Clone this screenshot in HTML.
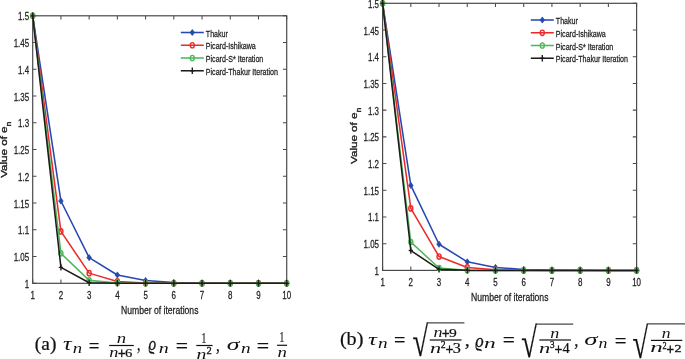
<!DOCTYPE html><html><head><meta charset="utf-8"><style>html,body{margin:0;padding:0;background:#fff;overflow:hidden}svg{display:block}.s{font-family:"Liberation Sans",Arial,sans-serif;fill:#222;stroke:#222;stroke-width:0.25px}.yl{stroke-width:0.45px}.cap{position:absolute;font-family:"Liberation Serif","Times New Roman",serif;color:#111;white-space:nowrap}</style></head><body>
<svg width="685" height="359" viewBox="0 0 685 359">
<rect width="685" height="359" fill="#fff"/>
<g stroke="#4a4a4a" stroke-width="1.2" fill="none">
<rect x="32.7" y="15.8" width="254" height="267.5"/>
<path d="M32.7 283.3v-3.8M32.7 15.8v3.8M60.92 283.3v-3.8M60.92 15.8v3.8M89.14 283.3v-3.8M89.14 15.8v3.8M117.37 283.3v-3.8M117.37 15.8v3.8M145.59 283.3v-3.8M145.59 15.8v3.8M173.81 283.3v-3.8M173.81 15.8v3.8M202.03 283.3v-3.8M202.03 15.8v3.8M230.26 283.3v-3.8M230.26 15.8v3.8M258.48 283.3v-3.8M258.48 15.8v3.8M286.7 283.3v-3.8M286.7 15.8v3.8M32.7 15.8h3.8M286.7 15.8h-3.8M32.7 42.55h3.8M286.7 42.55h-3.8M32.7 69.3h3.8M286.7 69.3h-3.8M32.7 96.05h3.8M286.7 96.05h-3.8M32.7 122.8h3.8M286.7 122.8h-3.8M32.7 149.55h3.8M286.7 149.55h-3.8M32.7 176.3h3.8M286.7 176.3h-3.8M32.7 203.05h3.8M286.7 203.05h-3.8M32.7 229.8h3.8M286.7 229.8h-3.8M32.7 256.55h3.8M286.7 256.55h-3.8M32.7 283.3h3.8M286.7 283.3h-3.8" stroke-width="1.05"/>
</g>
<polyline points="32.7,15.8 60.92,201.02 89.14,257.62 117.37,275.01 145.59,280.52 173.81,282.5 202.03,283.09 230.26,283.25 258.48,283.3 286.7,283.3" fill="none" stroke="#2549b0" stroke-width="1.55" stroke-linejoin="round"/>
<path d="M32.7 12.7L35 15.8L32.7 18.9L30.4 15.8z" fill="#2549b0" stroke="#2549b0" stroke-width="0.7" stroke-linejoin="round"/>
<path d="M60.92 197.92L63.22 201.02L60.92 204.12L58.62 201.02z" fill="#2549b0" stroke="#2549b0" stroke-width="0.7" stroke-linejoin="round"/>
<path d="M89.14 254.52L91.44 257.62L89.14 260.72L86.84 257.62z" fill="#2549b0" stroke="#2549b0" stroke-width="0.7" stroke-linejoin="round"/>
<path d="M117.37 271.91L119.67 275.01L117.37 278.11L115.07 275.01z" fill="#2549b0" stroke="#2549b0" stroke-width="0.7" stroke-linejoin="round"/>
<path d="M145.59 277.42L147.89 280.52L145.59 283.62L143.29 280.52z" fill="#2549b0" stroke="#2549b0" stroke-width="0.7" stroke-linejoin="round"/>
<path d="M173.81 279.4L176.11 282.5L173.81 285.6L171.51 282.5z" fill="#2549b0" stroke="#2549b0" stroke-width="0.7" stroke-linejoin="round"/>
<path d="M202.03 279.99L204.33 283.09L202.03 286.19L199.73 283.09z" fill="#2549b0" stroke="#2549b0" stroke-width="0.7" stroke-linejoin="round"/>
<path d="M230.26 280.15L232.56 283.25L230.26 286.35L227.96 283.25z" fill="#2549b0" stroke="#2549b0" stroke-width="0.7" stroke-linejoin="round"/>
<path d="M258.48 280.2L260.78 283.3L258.48 286.4L256.18 283.3z" fill="#2549b0" stroke="#2549b0" stroke-width="0.7" stroke-linejoin="round"/>
<path d="M286.7 280.2L289 283.3L286.7 286.4L284.4 283.3z" fill="#2549b0" stroke="#2549b0" stroke-width="0.7" stroke-linejoin="round"/>
<polyline points="32.7,15.8 60.92,231.41 89.14,273.13 117.37,281.43 145.59,282.93 173.81,283.25 202.03,283.3 230.26,283.3 258.48,283.3 286.7,283.3" fill="none" stroke="#ec2c2c" stroke-width="1.55" stroke-linejoin="round"/>
<ellipse cx="32.7" cy="15.8" rx="2.0" ry="2.65" fill="none" stroke="#ec2c2c" stroke-width="1.45"/>
<ellipse cx="60.92" cy="231.41" rx="2.0" ry="2.65" fill="none" stroke="#ec2c2c" stroke-width="1.45"/>
<ellipse cx="89.14" cy="273.13" rx="2.0" ry="2.65" fill="none" stroke="#ec2c2c" stroke-width="1.45"/>
<ellipse cx="117.37" cy="281.43" rx="2.0" ry="2.65" fill="none" stroke="#ec2c2c" stroke-width="1.45"/>
<ellipse cx="145.59" cy="282.93" rx="2.0" ry="2.65" fill="none" stroke="#ec2c2c" stroke-width="1.45"/>
<ellipse cx="173.81" cy="283.25" rx="2.0" ry="2.65" fill="none" stroke="#ec2c2c" stroke-width="1.45"/>
<ellipse cx="202.03" cy="283.3" rx="2.0" ry="2.65" fill="none" stroke="#ec2c2c" stroke-width="1.45"/>
<ellipse cx="230.26" cy="283.3" rx="2.0" ry="2.65" fill="none" stroke="#ec2c2c" stroke-width="1.45"/>
<ellipse cx="258.48" cy="283.3" rx="2.0" ry="2.65" fill="none" stroke="#ec2c2c" stroke-width="1.45"/>
<ellipse cx="286.7" cy="283.3" rx="2.0" ry="2.65" fill="none" stroke="#ec2c2c" stroke-width="1.45"/>
<polyline points="32.7,15.8 60.92,253.34 89.14,280.36 117.37,282.98 145.59,283.25 173.81,283.3 202.03,283.3 230.26,283.3 258.48,283.3 286.7,283.3" fill="none" stroke="#4fb85a" stroke-width="1.55" stroke-linejoin="round"/>
<ellipse cx="32.7" cy="15.8" rx="2.0" ry="2.65" fill="none" stroke="#4fb85a" stroke-width="1.45"/>
<ellipse cx="60.92" cy="253.34" rx="2.0" ry="2.65" fill="none" stroke="#4fb85a" stroke-width="1.45"/>
<ellipse cx="89.14" cy="280.36" rx="2.0" ry="2.65" fill="none" stroke="#4fb85a" stroke-width="1.45"/>
<ellipse cx="117.37" cy="282.98" rx="2.0" ry="2.65" fill="none" stroke="#4fb85a" stroke-width="1.45"/>
<ellipse cx="145.59" cy="283.25" rx="2.0" ry="2.65" fill="none" stroke="#4fb85a" stroke-width="1.45"/>
<ellipse cx="173.81" cy="283.3" rx="2.0" ry="2.65" fill="none" stroke="#4fb85a" stroke-width="1.45"/>
<ellipse cx="202.03" cy="283.3" rx="2.0" ry="2.65" fill="none" stroke="#4fb85a" stroke-width="1.45"/>
<ellipse cx="230.26" cy="283.3" rx="2.0" ry="2.65" fill="none" stroke="#4fb85a" stroke-width="1.45"/>
<ellipse cx="258.48" cy="283.3" rx="2.0" ry="2.65" fill="none" stroke="#4fb85a" stroke-width="1.45"/>
<ellipse cx="286.7" cy="283.3" rx="2.0" ry="2.65" fill="none" stroke="#4fb85a" stroke-width="1.45"/>
<polyline points="32.7,15.8 60.92,267.41 89.14,282.76 117.37,283.25 145.59,283.3 173.81,283.3 202.03,283.3 230.26,283.3 258.48,283.3 286.7,283.3" fill="none" stroke="#1c1c1c" stroke-width="1.55" stroke-linejoin="round"/>
<path d="M32.7 12.6v6.4M30.6 15.8h4.2" stroke="#1c1c1c" stroke-width="1.35" fill="none"/>
<path d="M60.92 264.21v6.4M58.82 267.41h4.2" stroke="#1c1c1c" stroke-width="1.35" fill="none"/>
<path d="M89.14 279.56v6.4M87.04 282.76h4.2" stroke="#1c1c1c" stroke-width="1.35" fill="none"/>
<path d="M117.37 280.05v6.4M115.27 283.25h4.2" stroke="#1c1c1c" stroke-width="1.35" fill="none"/>
<path d="M145.59 280.1v6.4M143.49 283.3h4.2" stroke="#1c1c1c" stroke-width="1.35" fill="none"/>
<path d="M173.81 280.1v6.4M171.71 283.3h4.2" stroke="#1c1c1c" stroke-width="1.35" fill="none"/>
<path d="M202.03 280.1v6.4M199.93 283.3h4.2" stroke="#1c1c1c" stroke-width="1.35" fill="none"/>
<path d="M230.26 280.1v6.4M228.16 283.3h4.2" stroke="#1c1c1c" stroke-width="1.35" fill="none"/>
<path d="M258.48 280.1v6.4M256.38 283.3h4.2" stroke="#1c1c1c" stroke-width="1.35" fill="none"/>
<path d="M286.7 280.1v6.4M284.6 283.3h4.2" stroke="#1c1c1c" stroke-width="1.35" fill="none"/>
<text class="s" x="0" y="0" font-size="10.2" text-anchor="middle" transform="translate(32.7 298.8) scale(0.78 1)">1</text>
<text class="s" x="0" y="0" font-size="10.2" text-anchor="middle" transform="translate(60.92 298.8) scale(0.78 1)">2</text>
<text class="s" x="0" y="0" font-size="10.2" text-anchor="middle" transform="translate(89.14 298.8) scale(0.78 1)">3</text>
<text class="s" x="0" y="0" font-size="10.2" text-anchor="middle" transform="translate(117.37 298.8) scale(0.78 1)">4</text>
<text class="s" x="0" y="0" font-size="10.2" text-anchor="middle" transform="translate(145.59 298.8) scale(0.78 1)">5</text>
<text class="s" x="0" y="0" font-size="10.2" text-anchor="middle" transform="translate(173.81 298.8) scale(0.78 1)">6</text>
<text class="s" x="0" y="0" font-size="10.2" text-anchor="middle" transform="translate(202.03 298.8) scale(0.78 1)">7</text>
<text class="s" x="0" y="0" font-size="10.2" text-anchor="middle" transform="translate(230.26 298.8) scale(0.78 1)">8</text>
<text class="s" x="0" y="0" font-size="10.2" text-anchor="middle" transform="translate(258.48 298.8) scale(0.78 1)">9</text>
<text class="s" x="0" y="0" font-size="10.2" text-anchor="middle" transform="translate(286.7 298.8) scale(0.78 1)">10</text>
<text class="s" x="0" y="0" font-size="10.2" text-anchor="end" transform="translate(29.1 287.8) scale(0.78 1)">1</text>
<text class="s" x="0" y="0" font-size="10.2" text-anchor="end" transform="translate(29.1 261.05) scale(0.78 1)">1.05</text>
<text class="s" x="0" y="0" font-size="10.2" text-anchor="end" transform="translate(29.1 234.3) scale(0.78 1)">1.1</text>
<text class="s" x="0" y="0" font-size="10.2" text-anchor="end" transform="translate(29.1 207.55) scale(0.78 1)">1.15</text>
<text class="s" x="0" y="0" font-size="10.2" text-anchor="end" transform="translate(29.1 180.8) scale(0.78 1)">1.2</text>
<text class="s" x="0" y="0" font-size="10.2" text-anchor="end" transform="translate(29.1 154.05) scale(0.78 1)">1.25</text>
<text class="s" x="0" y="0" font-size="10.2" text-anchor="end" transform="translate(29.1 127.3) scale(0.78 1)">1.3</text>
<text class="s" x="0" y="0" font-size="10.2" text-anchor="end" transform="translate(29.1 100.55) scale(0.78 1)">1.35</text>
<text class="s" x="0" y="0" font-size="10.2" text-anchor="end" transform="translate(29.1 73.8) scale(0.78 1)">1.4</text>
<text class="s" x="0" y="0" font-size="10.2" text-anchor="end" transform="translate(29.1 47.05) scale(0.78 1)">1.45</text>
<text class="s" x="0" y="0" font-size="10.2" text-anchor="end" transform="translate(29.1 20.3) scale(0.78 1)">1.5</text>
<text class="s" x="0" y="0" font-size="10.5" text-anchor="middle" transform="translate(159.7 313.6) scale(0.82 1)">Number of iterations</text>
<text class="s yl" x="0" y="0" font-size="11.6" transform="translate(7 177.8) scale(0.82 1) rotate(-90)">Value of e<tspan font-size="8.2" dy="4.4" dx="0.3">n</tspan></text>
<path d="M180.8 32.5h23" stroke="#2549b0" stroke-width="1.55"/>
<path d="M192.3 29.4L194.6 32.5L192.3 35.6L190 32.5z" fill="#2549b0" stroke="#2549b0" stroke-width="0.7" stroke-linejoin="round"/>
<text class="s" x="0" y="0" font-size="9.4" transform="translate(205.8 36.5) scale(0.755 1)">Thakur</text>
<path d="M180.8 45.25h23" stroke="#ec2c2c" stroke-width="1.55"/>
<ellipse cx="192.3" cy="45.25" rx="2.0" ry="2.65" fill="none" stroke="#ec2c2c" stroke-width="1.45"/>
<text class="s" x="0" y="0" font-size="9.4" transform="translate(205.8 49.25) scale(0.755 1)">Picard-Ishikawa</text>
<path d="M180.8 58h23" stroke="#4fb85a" stroke-width="1.55"/>
<ellipse cx="192.3" cy="58" rx="2.0" ry="2.65" fill="none" stroke="#4fb85a" stroke-width="1.45"/>
<text class="s" x="0" y="0" font-size="9.4" transform="translate(205.8 62) scale(0.755 1)">Picard-S* Iteration</text>
<path d="M180.8 70.75h23" stroke="#1c1c1c" stroke-width="1.55"/>
<path d="M192.3 67.55v6.4M190.2 70.75h4.2" stroke="#1c1c1c" stroke-width="1.35" fill="none"/>
<text class="s" x="0" y="0" font-size="9.4" transform="translate(205.8 74.75) scale(0.755 1)">Picard-Thakur Iteration</text>
<g stroke="#4a4a4a" stroke-width="1.2" fill="none">
<rect x="382.6" y="3.3" width="254" height="267.1"/>
<path d="M382.6 270.4v-3.8M382.6 3.3v3.8M410.82 270.4v-3.8M410.82 3.3v3.8M439.04 270.4v-3.8M439.04 3.3v3.8M467.27 270.4v-3.8M467.27 3.3v3.8M495.49 270.4v-3.8M495.49 3.3v3.8M523.71 270.4v-3.8M523.71 3.3v3.8M551.93 270.4v-3.8M551.93 3.3v3.8M580.16 270.4v-3.8M580.16 3.3v3.8M608.38 270.4v-3.8M608.38 3.3v3.8M636.6 270.4v-3.8M636.6 3.3v3.8M382.6 3.3h3.8M636.6 3.3h-3.8M382.6 30.01h3.8M636.6 30.01h-3.8M382.6 56.72h3.8M636.6 56.72h-3.8M382.6 83.43h3.8M636.6 83.43h-3.8M382.6 110.14h3.8M636.6 110.14h-3.8M382.6 136.85h3.8M636.6 136.85h-3.8M382.6 163.56h3.8M636.6 163.56h-3.8M382.6 190.27h3.8M636.6 190.27h-3.8M382.6 216.98h3.8M636.6 216.98h-3.8M382.6 243.69h3.8M636.6 243.69h-3.8M382.6 270.4h3.8M636.6 270.4h-3.8" stroke-width="1.05"/>
</g>
<polyline points="382.6,3.3 410.82,185.46 439.04,244.22 467.27,261.85 495.49,267.46 523.71,269.49 551.93,270.13 580.16,270.35 608.38,270.4 636.6,270.4" fill="none" stroke="#2549b0" stroke-width="1.55" stroke-linejoin="round"/>
<path d="M382.6 0.2L384.9 3.3L382.6 6.4L380.3 3.3z" fill="#2549b0" stroke="#2549b0" stroke-width="0.7" stroke-linejoin="round"/>
<path d="M410.82 182.36L413.12 185.46L410.82 188.56L408.52 185.46z" fill="#2549b0" stroke="#2549b0" stroke-width="0.7" stroke-linejoin="round"/>
<path d="M439.04 241.12L441.34 244.22L439.04 247.32L436.74 244.22z" fill="#2549b0" stroke="#2549b0" stroke-width="0.7" stroke-linejoin="round"/>
<path d="M467.27 258.75L469.57 261.85L467.27 264.95L464.97 261.85z" fill="#2549b0" stroke="#2549b0" stroke-width="0.7" stroke-linejoin="round"/>
<path d="M495.49 264.36L497.79 267.46L495.49 270.56L493.19 267.46z" fill="#2549b0" stroke="#2549b0" stroke-width="0.7" stroke-linejoin="round"/>
<path d="M523.71 266.39L526.01 269.49L523.71 272.59L521.41 269.49z" fill="#2549b0" stroke="#2549b0" stroke-width="0.7" stroke-linejoin="round"/>
<path d="M551.93 267.03L554.23 270.13L551.93 273.23L549.63 270.13z" fill="#2549b0" stroke="#2549b0" stroke-width="0.7" stroke-linejoin="round"/>
<path d="M580.16 267.25L582.46 270.35L580.16 273.45L577.86 270.35z" fill="#2549b0" stroke="#2549b0" stroke-width="0.7" stroke-linejoin="round"/>
<path d="M608.38 267.3L610.68 270.4L608.38 273.5L606.08 270.4z" fill="#2549b0" stroke="#2549b0" stroke-width="0.7" stroke-linejoin="round"/>
<path d="M636.6 267.3L638.9 270.4L636.6 273.5L634.3 270.4z" fill="#2549b0" stroke="#2549b0" stroke-width="0.7" stroke-linejoin="round"/>
<polyline points="382.6,3.3 410.82,208.43 439.04,256.51 467.27,267.46 495.49,269.81 523.71,270.29 551.93,270.4 580.16,270.4 608.38,270.4 636.6,270.4" fill="none" stroke="#ec2c2c" stroke-width="1.55" stroke-linejoin="round"/>
<ellipse cx="382.6" cy="3.3" rx="2.0" ry="2.65" fill="none" stroke="#ec2c2c" stroke-width="1.45"/>
<ellipse cx="410.82" cy="208.43" rx="2.0" ry="2.65" fill="none" stroke="#ec2c2c" stroke-width="1.45"/>
<ellipse cx="439.04" cy="256.51" rx="2.0" ry="2.65" fill="none" stroke="#ec2c2c" stroke-width="1.45"/>
<ellipse cx="467.27" cy="267.46" rx="2.0" ry="2.65" fill="none" stroke="#ec2c2c" stroke-width="1.45"/>
<ellipse cx="495.49" cy="269.81" rx="2.0" ry="2.65" fill="none" stroke="#ec2c2c" stroke-width="1.45"/>
<ellipse cx="523.71" cy="270.29" rx="2.0" ry="2.65" fill="none" stroke="#ec2c2c" stroke-width="1.45"/>
<ellipse cx="551.93" cy="270.4" rx="2.0" ry="2.65" fill="none" stroke="#ec2c2c" stroke-width="1.45"/>
<ellipse cx="580.16" cy="270.4" rx="2.0" ry="2.65" fill="none" stroke="#ec2c2c" stroke-width="1.45"/>
<ellipse cx="608.38" cy="270.4" rx="2.0" ry="2.65" fill="none" stroke="#ec2c2c" stroke-width="1.45"/>
<ellipse cx="636.6" cy="270.4" rx="2.0" ry="2.65" fill="none" stroke="#ec2c2c" stroke-width="1.45"/>
<polyline points="382.6,3.3 410.82,242.09 439.04,268 467.27,270.19 495.49,270.4 523.71,270.4 551.93,270.4 580.16,270.4 608.38,270.4 636.6,270.4" fill="none" stroke="#4fb85a" stroke-width="1.55" stroke-linejoin="round"/>
<ellipse cx="382.6" cy="3.3" rx="2.0" ry="2.65" fill="none" stroke="#4fb85a" stroke-width="1.45"/>
<ellipse cx="410.82" cy="242.09" rx="2.0" ry="2.65" fill="none" stroke="#4fb85a" stroke-width="1.45"/>
<ellipse cx="439.04" cy="268" rx="2.0" ry="2.65" fill="none" stroke="#4fb85a" stroke-width="1.45"/>
<ellipse cx="467.27" cy="270.19" rx="2.0" ry="2.65" fill="none" stroke="#4fb85a" stroke-width="1.45"/>
<ellipse cx="495.49" cy="270.4" rx="2.0" ry="2.65" fill="none" stroke="#4fb85a" stroke-width="1.45"/>
<ellipse cx="523.71" cy="270.4" rx="2.0" ry="2.65" fill="none" stroke="#4fb85a" stroke-width="1.45"/>
<ellipse cx="551.93" cy="270.4" rx="2.0" ry="2.65" fill="none" stroke="#4fb85a" stroke-width="1.45"/>
<ellipse cx="580.16" cy="270.4" rx="2.0" ry="2.65" fill="none" stroke="#4fb85a" stroke-width="1.45"/>
<ellipse cx="608.38" cy="270.4" rx="2.0" ry="2.65" fill="none" stroke="#4fb85a" stroke-width="1.45"/>
<ellipse cx="636.6" cy="270.4" rx="2.0" ry="2.65" fill="none" stroke="#4fb85a" stroke-width="1.45"/>
<polyline points="382.6,3.3 410.82,250.53 439.04,269.33 467.27,270.35 495.49,270.4 523.71,270.4 551.93,270.4 580.16,270.4 608.38,270.4 636.6,270.4" fill="none" stroke="#1c1c1c" stroke-width="1.55" stroke-linejoin="round"/>
<path d="M382.6 0.1v6.4M380.5 3.3h4.2" stroke="#1c1c1c" stroke-width="1.35" fill="none"/>
<path d="M410.82 247.33v6.4M408.72 250.53h4.2" stroke="#1c1c1c" stroke-width="1.35" fill="none"/>
<path d="M439.04 266.13v6.4M436.94 269.33h4.2" stroke="#1c1c1c" stroke-width="1.35" fill="none"/>
<path d="M467.27 267.15v6.4M465.17 270.35h4.2" stroke="#1c1c1c" stroke-width="1.35" fill="none"/>
<path d="M495.49 267.2v6.4M493.39 270.4h4.2" stroke="#1c1c1c" stroke-width="1.35" fill="none"/>
<path d="M523.71 267.2v6.4M521.61 270.4h4.2" stroke="#1c1c1c" stroke-width="1.35" fill="none"/>
<path d="M551.93 267.2v6.4M549.83 270.4h4.2" stroke="#1c1c1c" stroke-width="1.35" fill="none"/>
<path d="M580.16 267.2v6.4M578.06 270.4h4.2" stroke="#1c1c1c" stroke-width="1.35" fill="none"/>
<path d="M608.38 267.2v6.4M606.28 270.4h4.2" stroke="#1c1c1c" stroke-width="1.35" fill="none"/>
<path d="M636.6 267.2v6.4M634.5 270.4h4.2" stroke="#1c1c1c" stroke-width="1.35" fill="none"/>
<text class="s" x="0" y="0" font-size="10.2" text-anchor="middle" transform="translate(382.6 285.9) scale(0.78 1)">1</text>
<text class="s" x="0" y="0" font-size="10.2" text-anchor="middle" transform="translate(410.82 285.9) scale(0.78 1)">2</text>
<text class="s" x="0" y="0" font-size="10.2" text-anchor="middle" transform="translate(439.04 285.9) scale(0.78 1)">3</text>
<text class="s" x="0" y="0" font-size="10.2" text-anchor="middle" transform="translate(467.27 285.9) scale(0.78 1)">4</text>
<text class="s" x="0" y="0" font-size="10.2" text-anchor="middle" transform="translate(495.49 285.9) scale(0.78 1)">5</text>
<text class="s" x="0" y="0" font-size="10.2" text-anchor="middle" transform="translate(523.71 285.9) scale(0.78 1)">6</text>
<text class="s" x="0" y="0" font-size="10.2" text-anchor="middle" transform="translate(551.93 285.9) scale(0.78 1)">7</text>
<text class="s" x="0" y="0" font-size="10.2" text-anchor="middle" transform="translate(580.16 285.9) scale(0.78 1)">8</text>
<text class="s" x="0" y="0" font-size="10.2" text-anchor="middle" transform="translate(608.38 285.9) scale(0.78 1)">9</text>
<text class="s" x="0" y="0" font-size="10.2" text-anchor="middle" transform="translate(636.6 285.9) scale(0.78 1)">10</text>
<text class="s" x="0" y="0" font-size="10.2" text-anchor="end" transform="translate(379 274.9) scale(0.78 1)">1</text>
<text class="s" x="0" y="0" font-size="10.2" text-anchor="end" transform="translate(379 248.19) scale(0.78 1)">1.05</text>
<text class="s" x="0" y="0" font-size="10.2" text-anchor="end" transform="translate(379 221.48) scale(0.78 1)">1.1</text>
<text class="s" x="0" y="0" font-size="10.2" text-anchor="end" transform="translate(379 194.77) scale(0.78 1)">1.15</text>
<text class="s" x="0" y="0" font-size="10.2" text-anchor="end" transform="translate(379 168.06) scale(0.78 1)">1.2</text>
<text class="s" x="0" y="0" font-size="10.2" text-anchor="end" transform="translate(379 141.35) scale(0.78 1)">1.25</text>
<text class="s" x="0" y="0" font-size="10.2" text-anchor="end" transform="translate(379 114.64) scale(0.78 1)">1.3</text>
<text class="s" x="0" y="0" font-size="10.2" text-anchor="end" transform="translate(379 87.93) scale(0.78 1)">1.35</text>
<text class="s" x="0" y="0" font-size="10.2" text-anchor="end" transform="translate(379 61.22) scale(0.78 1)">1.4</text>
<text class="s" x="0" y="0" font-size="10.2" text-anchor="end" transform="translate(379 34.51) scale(0.78 1)">1.45</text>
<text class="s" x="0" y="0" font-size="10.2" text-anchor="end" transform="translate(379 7.8) scale(0.78 1)">1.5</text>
<text class="s" x="0" y="0" font-size="10.5" text-anchor="middle" transform="translate(509.7 300.6) scale(0.82 1)">Number of iterations</text>
<text class="s yl" x="0" y="0" font-size="11.6" transform="translate(357.4 163.9) scale(0.82 1) rotate(-90)">Value of e<tspan font-size="8.2" dy="4.4" dx="0.3">n</tspan></text>
<path d="M530.8 20h23" stroke="#2549b0" stroke-width="1.55"/>
<path d="M542.3 16.9L544.6 20L542.3 23.1L540 20z" fill="#2549b0" stroke="#2549b0" stroke-width="0.7" stroke-linejoin="round"/>
<text class="s" x="0" y="0" font-size="9.4" transform="translate(555.8 24) scale(0.755 1)">Thakur</text>
<path d="M530.8 32.75h23" stroke="#ec2c2c" stroke-width="1.55"/>
<ellipse cx="542.3" cy="32.75" rx="2.0" ry="2.65" fill="none" stroke="#ec2c2c" stroke-width="1.45"/>
<text class="s" x="0" y="0" font-size="9.4" transform="translate(555.8 36.75) scale(0.755 1)">Picard-Ishikawa</text>
<path d="M530.8 45.5h23" stroke="#4fb85a" stroke-width="1.55"/>
<ellipse cx="542.3" cy="45.5" rx="2.0" ry="2.65" fill="none" stroke="#4fb85a" stroke-width="1.45"/>
<text class="s" x="0" y="0" font-size="9.4" transform="translate(555.8 49.5) scale(0.755 1)">Picard-S* Iteration</text>
<path d="M530.8 58.25h23" stroke="#1c1c1c" stroke-width="1.55"/>
<path d="M542.3 55.05v6.4M540.2 58.25h4.2" stroke="#1c1c1c" stroke-width="1.35" fill="none"/>
<text class="s" x="0" y="0" font-size="9.4" transform="translate(555.8 62.25) scale(0.755 1)">Picard-Thakur Iteration</text>
<text x="0" y="0" font-family='"Liberation Serif",serif' font-style="normal" font-size="18.13" fill="#111" stroke="#111" stroke-width="0.22" transform="translate(34.83 349.90) scale(1.071 1)">(a)</text>
<text x="0" y="0" font-family='"Liberation Serif",serif' font-style="italic" font-size="18.72" fill="#111" stroke="#111" stroke-width="0.00" transform="translate(62.92 350.21) scale(1.285 1)">τ</text>
<text x="0" y="0" font-family='"Liberation Serif",serif' font-style="italic" font-size="13.60" fill="#111" stroke="#fff" stroke-width="0.00" transform="translate(72.74 352.80) scale(1.384 1)">n</text>
<text x="0" y="0" font-family='"Liberation Serif",serif' font-style="normal" font-size="22.00" fill="#111" stroke="#111" stroke-width="0.22" transform="translate(88.85 352.81) scale(0.860 1)">=</text>
<text x="0" y="0" font-family='"Liberation Serif",serif' font-style="italic" font-size="13.60" fill="#111" stroke="#fff" stroke-width="0.00" transform="translate(116.64 342.60) scale(1.384 1)">n</text>
<text x="0" y="0" font-family='"Liberation Serif",serif' font-style="italic" font-size="13.60" fill="#111" stroke="#fff" stroke-width="0.00" transform="translate(109.16 356.80) scale(1.349 1)">n</text>
<text x="0" y="0" font-family='"Liberation Serif",serif' font-style="normal" font-size="14.00" fill="#111" stroke="#111" stroke-width="0.55" transform="translate(117.94 357.52) scale(0.950 1)">+</text>
<text x="0" y="0" font-family='"Liberation Serif",serif' font-style="normal" font-size="13.13" fill="#111" stroke="#111" stroke-width="0.22" transform="translate(125.11 356.67) scale(1.115 1)">6</text>
<text x="0" y="0" font-family='"Liberation Serif",serif' font-style="normal" font-size="21.96" fill="#111" stroke="#111" stroke-width="0.22" transform="translate(137.05 349.91) scale(0.628 1)">,</text>
<text x="0" y="0" font-family='"Liberation Serif",serif' font-style="italic" font-size="18.50" fill="#111" stroke="#111" stroke-width="0.30" transform="translate(148.60 350.19) scale(0.811 1)">ϱ</text>
<text x="0" y="0" font-family='"Liberation Serif",serif' font-style="italic" font-size="13.60" fill="#111" stroke="#fff" stroke-width="0.00" transform="translate(158.70 353.20) scale(1.471 1)">n</text>
<text x="0" y="0" font-family='"Liberation Serif",serif' font-style="normal" font-size="22.00" fill="#111" stroke="#111" stroke-width="0.22" transform="translate(175.81 352.81) scale(0.987 1)">=</text>
<text x="0" y="0" font-family='"Liberation Serif",serif' font-style="normal" font-size="14.20" fill="#111" stroke="#111" stroke-width="0.20" transform="translate(201.49 342.60) scale(0.674 1)">1</text>
<text x="0" y="0" font-family='"Liberation Serif",serif' font-style="italic" font-size="13.60" fill="#111" stroke="#fff" stroke-width="0.00" transform="translate(196.61 359.40) scale(1.453 1)">n</text>
<text x="0" y="0" font-family='"Liberation Serif",serif' font-style="normal" font-size="10.60" fill="#111" stroke="#111" stroke-width="0.30" transform="translate(206.53 354.00) scale(0.991 1)">2</text>
<text x="0" y="0" font-family='"Liberation Serif",serif' font-style="normal" font-size="18.82" fill="#111" stroke="#111" stroke-width="0.22" transform="translate(215.89 351.38) scale(0.806 1)">,</text>
<text x="0" y="0" font-family='"Liberation Serif",serif' font-style="italic" font-size="16.50" fill="#111" stroke="#111" stroke-width="0.00" transform="translate(226.82 350.24) scale(1.567 1)">σ</text>
<text x="0" y="0" font-family='"Liberation Serif",serif' font-style="italic" font-size="13.60" fill="#111" stroke="#fff" stroke-width="0.00" transform="translate(241.12 352.80) scale(1.419 1)">n</text>
<text x="0" y="0" font-family='"Liberation Serif",serif' font-style="normal" font-size="22.00" fill="#111" stroke="#111" stroke-width="0.22" transform="translate(256.70 352.81) scale(0.997 1)">=</text>
<text x="0" y="0" font-family='"Liberation Serif",serif' font-style="normal" font-size="14.20" fill="#111" stroke="#111" stroke-width="0.20" transform="translate(279.39 342.20) scale(0.674 1)">1</text>
<text x="0" y="0" font-family='"Liberation Serif",serif' font-style="italic" font-size="13.60" fill="#111" stroke="#fff" stroke-width="0.00" transform="translate(277.44 356.80) scale(1.384 1)">n</text>
<text x="0" y="0" font-family='"Liberation Serif",serif' font-style="normal" font-size="19.12" fill="#111" stroke="#111" stroke-width="0.22" transform="translate(339.90 344.99) scale(1.051 1)">(b)</text>
<text x="0" y="0" font-family='"Liberation Serif",serif' font-style="italic" font-size="16.81" fill="#111" stroke="#111" stroke-width="0.00" transform="translate(368.10 344.63) scale(1.479 1)">τ</text>
<text x="0" y="0" font-family='"Liberation Serif",serif' font-style="italic" font-size="13.60" fill="#111" stroke="#fff" stroke-width="0.00" transform="translate(378.12 347.70) scale(1.419 1)">n</text>
<text x="0" y="0" font-family='"Liberation Serif",serif' font-style="normal" font-size="21.20" fill="#111" stroke="#111" stroke-width="0.22" transform="translate(394.09 347.45) scale(0.954 1)">=</text>
<text x="0" y="0" font-family='"Liberation Serif",serif' font-style="italic" font-size="13.60" fill="#111" stroke="#fff" stroke-width="0.00" transform="translate(433.57 337.10) scale(1.332 1)">n</text>
<text x="0" y="0" font-family='"Liberation Serif",serif' font-style="normal" font-size="14.00" fill="#111" stroke="#111" stroke-width="0.55" transform="translate(442.09 337.92) scale(0.950 1)">+</text>
<text x="0" y="0" font-family='"Liberation Serif",serif' font-style="normal" font-size="12.84" fill="#111" stroke="#111" stroke-width="0.22" transform="translate(448.93 337.47) scale(1.214 1)">9</text>
<text x="0" y="0" font-family='"Liberation Serif",serif' font-style="italic" font-size="13.60" fill="#111" stroke="#fff" stroke-width="0.00" transform="translate(430.12 352.70) scale(1.644 1)">n</text>
<text x="0" y="0" font-family='"Liberation Serif",serif' font-style="normal" font-size="10.60" fill="#111" stroke="#111" stroke-width="0.30" transform="translate(440.86 347.50) scale(0.920 1)">2</text>
<text x="0" y="0" font-family='"Liberation Serif",serif' font-style="normal" font-size="14.00" fill="#111" stroke="#111" stroke-width="0.55" transform="translate(445.64 353.72) scale(0.950 1)">+</text>
<text x="0" y="0" font-family='"Liberation Serif",serif' font-style="normal" font-size="13.58" fill="#111" stroke="#111" stroke-width="0.22" transform="translate(452.87 353.06) scale(1.189 1)">3</text>
<text x="0" y="0" font-family='"Liberation Serif",serif' font-style="normal" font-size="18.82" fill="#111" stroke="#111" stroke-width="0.22" transform="translate(464.70 345.68) scale(1.063 1)">,</text>
<text x="0" y="0" font-family='"Liberation Serif",serif' font-style="italic" font-size="18.50" fill="#111" stroke="#111" stroke-width="0.30" transform="translate(475.27 347.19) scale(0.893 1)">ϱ</text>
<text x="0" y="0" font-family='"Liberation Serif",serif' font-style="italic" font-size="13.60" fill="#111" stroke="#fff" stroke-width="0.00" transform="translate(483.98 347.90) scale(1.730 1)">n</text>
<text x="0" y="0" font-family='"Liberation Serif",serif' font-style="normal" font-size="21.20" fill="#111" stroke="#111" stroke-width="0.22" transform="translate(502.72 347.45) scale(1.014 1)">=</text>
<text x="0" y="0" font-family='"Liberation Serif",serif' font-style="italic" font-size="13.60" fill="#111" stroke="#fff" stroke-width="0.00" transform="translate(550.17 337.60) scale(1.332 1)">n</text>
<text x="0" y="0" font-family='"Liberation Serif",serif' font-style="italic" font-size="13.60" fill="#111" stroke="#fff" stroke-width="0.00" transform="translate(539.11 353.00) scale(1.661 1)">n</text>
<text x="0" y="0" font-family='"Liberation Serif",serif' font-style="normal" font-size="10.60" fill="#111" stroke="#111" stroke-width="0.30" transform="translate(549.99 347.89) scale(0.864 1)">3</text>
<text x="0" y="0" font-family='"Liberation Serif",serif' font-style="normal" font-size="14.00" fill="#111" stroke="#111" stroke-width="0.55" transform="translate(554.69 353.72) scale(0.950 1)">+</text>
<text x="0" y="0" font-family='"Liberation Serif",serif' font-style="normal" font-size="13.79" fill="#111" stroke="#111" stroke-width="0.22" transform="translate(562.41 353.20) scale(1.045 1)">4</text>
<text x="0" y="0" font-family='"Liberation Serif",serif' font-style="normal" font-size="18.82" fill="#111" stroke="#111" stroke-width="0.22" transform="translate(574.34 345.68) scale(0.879 1)">,</text>
<text x="0" y="0" font-family='"Liberation Serif",serif' font-style="italic" font-size="16.50" fill="#111" stroke="#111" stroke-width="0.00" transform="translate(584.29 345.33) scale(1.628 1)">σ</text>
<text x="0" y="0" font-family='"Liberation Serif",serif' font-style="italic" font-size="13.60" fill="#111" stroke="#fff" stroke-width="0.00" transform="translate(598.47 347.90) scale(1.315 1)">n</text>
<text x="0" y="0" font-family='"Liberation Serif",serif' font-style="normal" font-size="21.20" fill="#111" stroke="#111" stroke-width="0.22" transform="translate(614.76 347.95) scale(0.984 1)">=</text>
<text x="0" y="0" font-family='"Liberation Serif",serif' font-style="italic" font-size="13.60" fill="#111" stroke="#fff" stroke-width="0.00" transform="translate(661.68 337.50) scale(1.298 1)">n</text>
<text x="0" y="0" font-family='"Liberation Serif",serif' font-style="italic" font-size="13.60" fill="#111" stroke="#fff" stroke-width="0.00" transform="translate(650.32 352.20) scale(1.851 1)">n</text>
<text x="0" y="0" font-family='"Liberation Serif",serif' font-style="normal" font-size="10.60" fill="#111" stroke="#111" stroke-width="0.30" transform="translate(662.53 348.50) scale(0.778 1)">2</text>
<text x="0" y="0" font-family='"Liberation Serif",serif' font-style="normal" font-size="14.00" fill="#111" stroke="#111" stroke-width="0.55" transform="translate(666.59 353.72) scale(0.950 1)">+</text>
<text x="0" y="0" font-family='"Liberation Serif",serif' font-style="normal" font-size="10.60" fill="#111" stroke="#111" stroke-width="0.30" transform="translate(674.57 352.20) scale(1.321 1)">2</text>
<rect x="109.20" y="344.90" width="24.60" height="1.20" fill="#111"/>
<rect x="196.30" y="344.90" width="16.30" height="1.20" fill="#111"/>
<rect x="277.10" y="344.70" width="10.00" height="1.20" fill="#111"/>
<rect x="429.70" y="339.40" width="31.80" height="1.20" fill="#111"/>
<rect x="539.30" y="339.40" width="31.70" height="1.20" fill="#111"/>
<rect x="651.00" y="339.80" width="31.30" height="1.20" fill="#111"/>
<text x="0" y="0" font-family='"Liberation Serif",serif' font-style="normal" font-size="42.14" fill="#111" stroke="#111" stroke-width="0.22" transform="translate(412.39 355.89) scale(0.674 1)">√</text>
<rect x="427.60" y="322.42" width="36.80" height="0.95" fill="#111"/>
<text x="0" y="0" font-family='"Liberation Serif",serif' font-style="normal" font-size="42.26" fill="#111" stroke="#111" stroke-width="0.22" transform="translate(521.19 357.19) scale(0.676 1)">√</text>
<rect x="536.50" y="323.62" width="36.70" height="0.95" fill="#111"/>
<text x="0" y="0" font-family='"Liberation Serif",serif' font-style="normal" font-size="43.27" fill="#111" stroke="#111" stroke-width="0.22" transform="translate(632.39 357.78) scale(0.656 1)">√</text>
<rect x="647.60" y="323.42" width="38.40" height="0.95" fill="#111"/>
</svg>
</body></html>
